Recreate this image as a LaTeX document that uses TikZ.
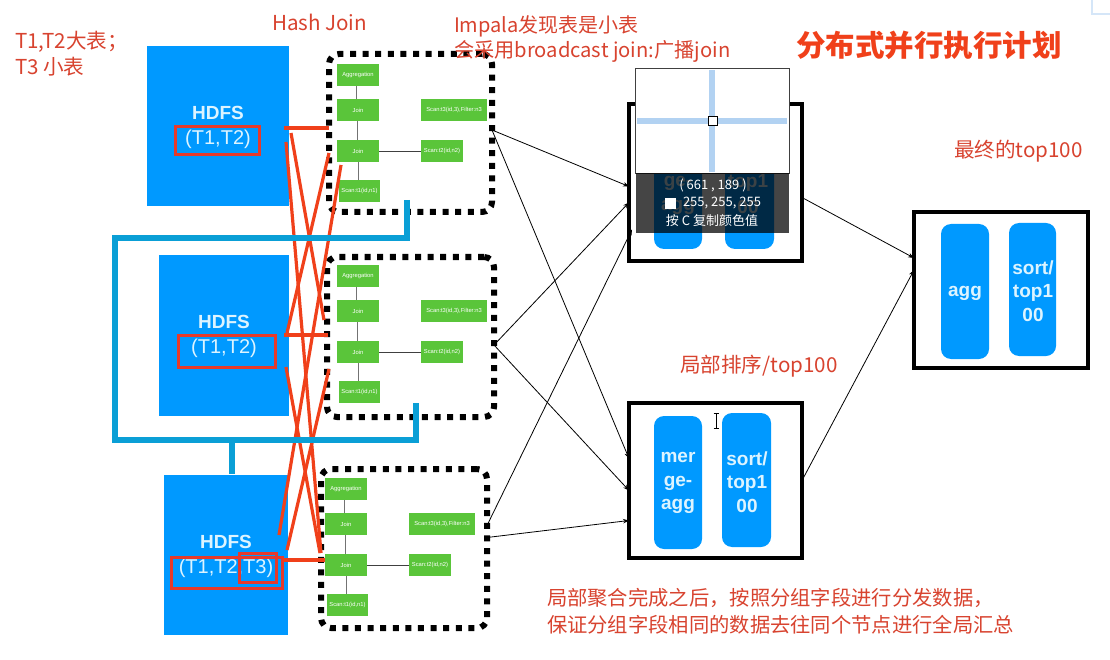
\documentclass[tikz,border=0pt]{standalone}
\usepackage{fontspec}
\setmainfont{Noto Sans CJK SC}
\newfontfamily\hv{Liberation Sans}
\usetikzlibrary{arrows.meta}
\definecolor{hblue}{HTML}{0099FF}
\definecolor{htext}{HTML}{DDF4FF}
\definecolor{bracket}{HTML}{0A9FD6}
\definecolor{rline}{HTML}{F0401A}
\definecolor{rbox}{HTML}{E53A2C}
\definecolor{rtext}{HTML}{D8432F}
\definecolor{gbox}{HTML}{5AC53A}
\definecolor{cross}{HTML}{B2D2F2}
\newcommand{\fs}[1]{\fontsize{#1}{#1}\selectfont}
\newcommand{\rnode}[7]{\node[#2,minimum width={(#5)-(#3)},minimum height={(#6)-(#4)}] (#1) at ({((#3)+(#5))/2},{((#4)+(#6))/2}) {#7};}
\newcommand{\plan}[3]{%
  \rnode{#1a}{gnode}{337+#2}{64+#3}{379+#2}{86+#3}{Aggregation}
  \rnode{#1j}{gnode}{337+#2}{99+#3}{379+#2}{121+#3}{Join}
  \rnode{#1k}{gnode}{337+#2}{140+#3}{379+#2}{162+#3}{Join}
  \rnode{#1s}{gnode}{339+#2}{180+#3}{380+#2}{202+#3}{Scan:t1(id,n1)}
  \rnode{#1u}{gnode}{421+#2}{99+#3}{487+#2}{121+#3}{Scan:t3(id,3),Filter:n3}
  \rnode{#1t}{gnode}{421+#2}{140+#3}{463+#2}{162+#3}{Scan:t2(id,n2)}
  \draw[glink] ([xshift=-2pt]#1a.south) -- ([xshift=-2pt]#1j.north);
  \draw[glink] ([xshift=-1pt]#1j.south) -- ([xshift=-1pt]#1k.north);
  \draw[glink] (#1k.south) -- (#1k.south|-#1s.north);
  \draw[glink,black!75] (#1k.east) -- (#1t.west);
}
\tikzset{
  base/.style={inner sep=0pt,outer sep=0pt},
  hdfs/.style={base,fill=hblue},
  htxt/.style={base,text=htext,font=\hv\bfseries\fs{19}},
  ttxt/.style={base,text=htext,font=\hv\fs{20}},
  dotbox/.style={base,draw=black,line width=6pt,dash pattern=on 6pt off 6.6pt,rounded corners=10pt},
  gnode/.style={base,fill=gbox,text=white,font=\hv\fs{5.8}},
  glink/.style={draw=black!55,line width=.8pt},
  rlink/.style={draw=rline,line width=3.2pt},
  rmark/.style={base,draw=rbox,line width=3pt},
  blink/.style={draw=bracket,line width=6pt},
  frame/.style={base,draw=black,line width=3.2pt},
  pill/.style={base,fill=hblue,rounded corners=10pt},
  ptxt/.style={base,text=htext,font=\hv\bfseries\fs{19},align=center},
  flow/.style={draw=black,line width=.8pt,-{Stealth[length=6pt,width=4.5pt]}},
  note/.style={base,anchor=base west,text=rtext,font=\fs{20.6}},
  gtxt/.style={base,text=white,font=\fs{13}},
}
\begin{document}
\begin{tikzpicture}[x=1pt,y=-1pt]
\path[use as bounding box,fill=white] (0,0) rectangle (1110,660);
% window corner
\fill[cross!55] (1091,0) rectangle (1110,15);
\fill[white] (1093,0) rectangle (1110,13);
% storage
\rnode{h1}{hdfs}{147}{46}{289}{206}{}
\rnode{h2}{hdfs}{159}{255}{289}{416}{}
\rnode{h3}{hdfs}{164}{475}{288}{635}{}
\node[htxt] (h1a) at (218,113) {HDFS};
\node[ttxt] (h1b) at (218,139) {(T1,T2)};
\node[htxt] (h2a) at (224,322) {HDFS};
\node[ttxt] (h2b) at (224,348) {(T1,T2)};
\node[htxt] (h3a) at (226,542) {HDFS};
\node[ttxt] (h3b) at (226,568) {(T1,T2,T3)};
\rnode{m1}{rmark}{175}{127}{259}{155}{}
\rnode{m2}{rmark}{178}{335}{275}{367}{}
\rnode{m3}{rmark}{171}{557}{282}{588}{}
\rnode{m4}{rmark}{239}{553}{276}{582}{}
% plan fragments
\rnode{d1}{dotbox}{329}{54}{492}{212}{}
\rnode{d2}{dotbox}{327}{257}{494}{417}{}
\rnode{d3}{dotbox}{321}{469}{487}{628}{}
\plan{p}{0}{0}
\plan{q}{0}{201}
\plan{r}{-12}{414}
% hash-join crossings
\coordinate (a0) at (284,128); \coordinate (a1) at (329,128);
\coordinate (b0) at (284,335); \coordinate (b1) at (328,335);
\coordinate (c0) at (283,560); \coordinate (c1) at (325,560);
\coordinate (e0) at (291,133); \coordinate (e1) at (324,320);
\coordinate (f0) at (286,142); \coordinate (f1) at (321,553);
\coordinate (g0) at (329,153); \coordinate (g1) at (287,333);
\coordinate (i0) at (341,165); \coordinate (i1) at (279,535);
\coordinate (l0) at (286,367); \coordinate (l1) at (320,553);
\coordinate (n0) at (329,369); \coordinate (n1) at (287,550);
\foreach \s/\t in {a0/a1,b0/b1,c0/c1,e0/e1,f0/f1,g0/g1,i0/i1,l0/l1,n0/n1}
  \draw[rlink] (\s) -- (\t);
% exchange bracket
\coordinate (w0) at (407,200); \coordinate (w1) at (407,238);
\coordinate (w2) at (115,238); \coordinate (w3) at (115,440);
\coordinate (w4) at (416,440); \coordinate (w5) at (416,403);
\coordinate (w6) at (232,440); \coordinate (w7) at (232,474);
\draw[blink] (w0) -- (w1) -- (w2) -- (w3) -- (w4) -- (w5);
\draw[blink] (w6) -- (w7);
% right side frames
\rnode{top}{frame}{629}{104}{802}{261}{}
\rnode{bot}{frame}{629}{403}{802}{558}{}
\rnode{fin}{frame}{914}{212}{1088}{368}{}
\rnode{tp1}{pill}{654}{130}{702}{249}{}
\rnode{tp2}{pill}{725}{130}{774}{249}{}
\node[ptxt] (tt1) at (678,183) {ge-};
\node[ptxt] (tt2) at (678,207) {agg};
\node[ptxt] (tt3) at (748,183) {top1};
\node[ptxt] (tt4) at (748,207) {00};
\rnode{bp1}{pill}{654}{416}{702}{549}{}
\rnode{bp2}{pill}{722}{413}{771}{547}{}
\node[ptxt] (bt1) at (678,483) {mer\\[4.5pt]ge-\\[4.5pt]agg};
\node[ptxt] (bt2) at (747,482) {sort/\\[4.5pt]top1\\[4.5pt]00};
\rnode{fp1}{pill}{941}{224}{989}{359}{}
\rnode{fp2}{pill}{1009}{223}{1056}{356}{}
\node[ptxt] (ft1) at (965,293) {agg};
\node[ptxt] (ft2) at (1033,291) {sort/\\[4.5pt]top1\\[4.5pt]00};
% data flow
\draw[flow] ([yshift=3pt]d1.east) -- ([yshift=-4pt]top.west);
\draw[flow] ([yshift=3pt]d1.east) -- ([yshift=22pt]bot.west);
\draw[flow] ([yshift=-8pt]d2.east) -- ([yshift=-20pt]top.west);
\draw[flow] ([yshift=-8pt]d2.east) -- ([yshift=-10pt]bot.west);
\draw[flow] ([yshift=23pt]d3.east) -- ([xshift=3pt,yshift=-47pt]top.west);
\draw[flow] ([yshift=11pt]d3.east) -- ([yshift=-40pt]bot.west);
\draw[flow] ([yshift=-15pt]top.east) -- ([yshift=32pt]fin.west);
\draw[flow] (bot.east) -- ([yshift=20pt]fin.west);
% colour picker overlay
\rnode{pk}{base,fill=white,draw=black!75,line width=.7pt}{635}{68}{789}{173}{}
\fill[cross] (709,70) rectangle (715,172);
\fill[cross] (637,118) rectangle (787,124);
\rnode{pc}{base,fill=white,draw=black,line width=.8pt}{708}{116}{717}{125}{}
\fill[black,opacity=.73] (636,173) rectangle (789,233);
\node[gtxt] (g1) at (713,185) {( 661 , 189 )};
\rnode{g2}{base,fill=white}{665}{198}{676}{209}{}
\node[gtxt] (g3) at (722,203) {255, 255, 255};
\node[gtxt] (g4) at (712,221) {按 C 复制颜色值};
% cursor
\draw[black,line width=.7pt] (713.5,413.5) -- (718.5,413.5) (716,413.5) -- (716,428.5) (713.5,428.5) -- (718.5,428.5);
% labels
\node[note] (n1) at (15,49) {T1,T2大表；};
\node[note] (n2) at (15,75) {T3 小表};
\node[note] (n3) at (272,31) {Hash Join};
\node[note,font=\fs{20}] (n4) at (454,33) {Impala发现表是小表};
\node[note,font=\fs{20.2}] (n5) at (454,58) {会采用broadcast join:广播join};
\node[note,text=rline,font=\bfseries\fs{29.5}] (n6) at (796,57) {分布式并行执行计划};
\node[note] (n7) at (954,158) {最终的top100};
\node[note] (n8) at (680,372) {局部排序/top100};
\node[note,font=\fs{20.3}] (n9) at (547,605) {局部聚合完成之后，按照分组字段进行分发数据，};
\node[note,font=\fs{20.3}] (n10) at (547,632) {保证分组字段相同的数据去往同个节点进行全局汇总};
\end{tikzpicture}
\end{document}
